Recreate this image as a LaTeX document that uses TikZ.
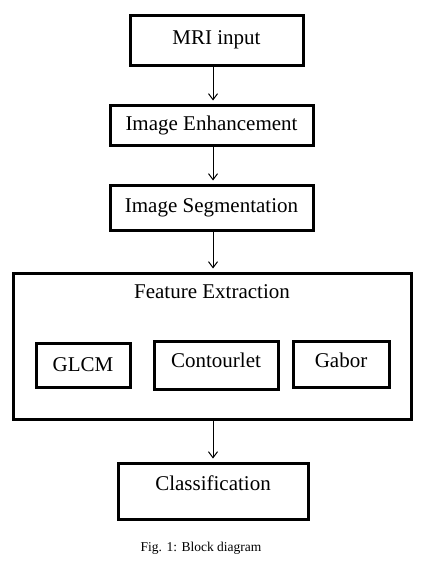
\documentclass[tikz,border=0pt]{standalone}
\usepackage{fontspec}
\setmainfont{Liberation Serif}
\usetikzlibrary{arrows.meta}
\begin{document}
\begin{tikzpicture}[x=1pt,y=-1pt,
  lbl/.style={font=\fontsize{21}{24}\selectfont},
  blk/.style={draw,line width=3pt,inner sep=0pt,lbl},
  conn/.style={line width=1pt,-{Straight Barb[length=6pt,width=9pt]},shorten >=3pt}]
\useasboundingbox (0,0) rectangle (423,562);
\node[blk,minimum width=173pt,minimum height=50pt] (mri) at (216.5,40) {MRI input};
\node[blk,minimum width=203pt,minimum height=40pt] (enh) at (211.5,125) {Image Enhancement};
\node[blk,minimum width=203pt,minimum height=45pt] (seg) at (211.5,207.5) {Image Segmentation};
\node[blk,minimum width=398pt,minimum height=146pt] (fe) at (212,346) {};
\node[lbl] (fet) at (212,292) {Feature Extraction};
\node[blk,minimum width=94pt,minimum height=44pt] (glcm) at (83,365) {GLCM};
\node[blk,minimum width=124pt,minimum height=48pt] (cont) at (216,365) {};
\node[lbl] (contt) at (216,360) {Contourlet};
\node[blk,minimum width=96pt,minimum height=46pt] (gab) at (341,364) {};
\node[lbl] (gabt) at (341,360) {Gabor};
\node[blk,minimum width=190pt,minimum height=56pt] (cls) at (213,491) {};
\node[lbl] (clst) at (213,483) {Classification};
\node[font=\fontsize{13.5}{16}\selectfont] (cap) at (201,548) {Fig. 1: Block diagram};
\draw[conn] (mri.south -| 213,0) -- (enh.north -| 213,0);
\draw[conn] (enh.south -| 213,0) -- (seg.north -| 213,0);
\draw[conn] (seg.south -| 213,0) -- (fe.north -| 213,0);
\draw[conn] (fe.south -| 213,0) -- (cls.north -| 213,0);
\end{tikzpicture}
\end{document}
